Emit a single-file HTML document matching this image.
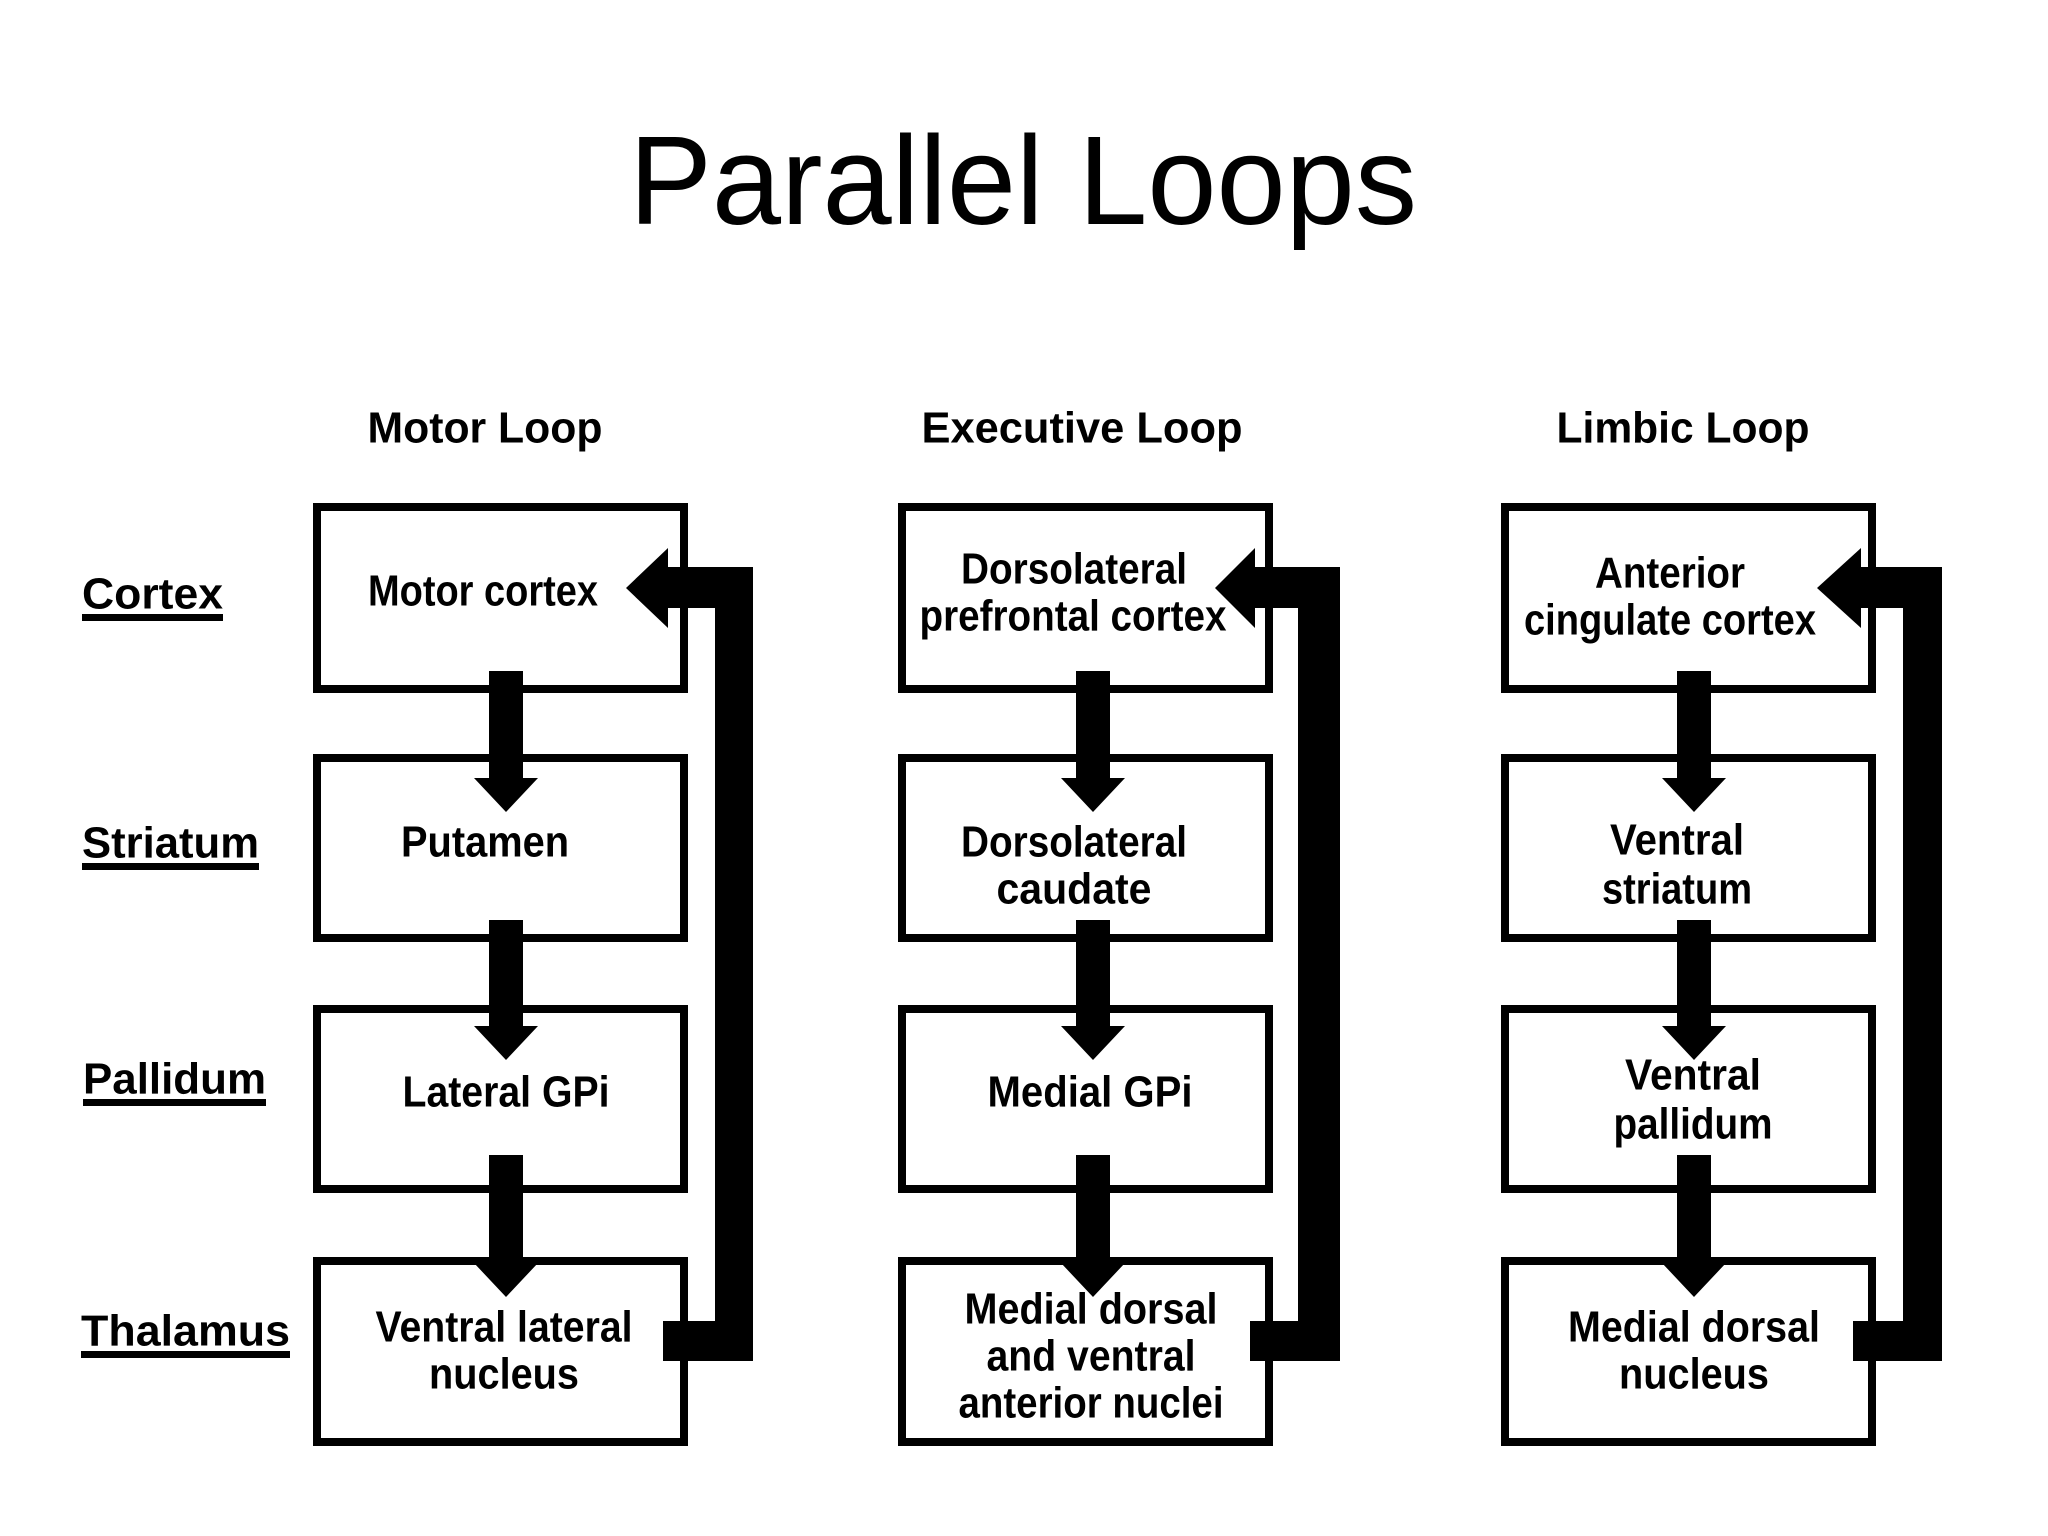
<!DOCTYPE html>
<html><head><meta charset="utf-8"><style>
html,body{margin:0;padding:0;background:#fff}
svg{display:block}
text{font-family:"Liberation Sans",sans-serif;fill:#000}
.b{font-weight:bold;font-size:44px}
</style></head><body>
<svg width="2048" height="1536" viewBox="0 0 2048 1536" xmlns="http://www.w3.org/2000/svg">
<text x="1023" y="224" font-size="126" text-anchor="middle" textLength="788" lengthAdjust="spacingAndGlyphs">Parallel Loops</text>

<g class="b" text-anchor="middle" dominant-baseline="central">
<text x="485" y="428" textLength="235" lengthAdjust="spacingAndGlyphs">Motor Loop</text>
<text x="1082" y="428" textLength="321" lengthAdjust="spacingAndGlyphs">Executive Loop</text>
<text x="1683" y="428" textLength="253" lengthAdjust="spacingAndGlyphs">Limbic Loop</text>
</g>

<g class="b" dominant-baseline="central" text-decoration="underline">
<text x="82" y="594" textLength="141" lengthAdjust="spacingAndGlyphs">Cortex</text>
<text x="82" y="843" textLength="177" lengthAdjust="spacingAndGlyphs">Striatum</text>
<text x="83" y="1079" textLength="183" lengthAdjust="spacingAndGlyphs">Pallidum</text>
<text x="81" y="1331" textLength="209" lengthAdjust="spacingAndGlyphs">Thalamus</text>
</g>
<g fill="#000">
<rect x="82" y="614" width="141" height="7"/>
<rect x="82" y="863" width="177" height="7"/>
<rect x="83" y="1099" width="183" height="7"/>
<rect x="81" y="1351" width="209" height="7"/>
</g>

<g fill="none" stroke="#000" stroke-width="8">
<rect x="317" y="507" width="367" height="182"/>
<rect x="317" y="758" width="367" height="180"/>
<rect x="317" y="1009" width="367" height="180"/>
<rect x="317" y="1261" width="367" height="181"/>
<rect x="902" y="507" width="367" height="182"/>
<rect x="902" y="758" width="367" height="180"/>
<rect x="902" y="1009" width="367" height="180"/>
<rect x="902" y="1261" width="367" height="181"/>
<rect x="1505" y="507" width="367" height="182"/>
<rect x="1505" y="758" width="367" height="180"/>
<rect x="1505" y="1009" width="367" height="180"/>
<rect x="1505" y="1261" width="367" height="181"/>
</g>

<defs>
<path id="d1" d="M-17,671 H17 V778 H32 L0,812 L-32,778 H-17 Z"/>
<path id="d2" d="M-17,920 H17 V1026 H32 L0,1060 L-32,1026 H-17 Z"/>
<path id="d3" d="M-17,1155 H17 V1263 H32 L0,1297 L-32,1263 H-17 Z"/>
</defs>
<g fill="#000">
<g transform="translate(506,0)"><use href="#d1"/><use href="#d2"/><use href="#d3"/></g>
<g transform="translate(1093,0)"><use href="#d1"/><use href="#d2"/><use href="#d3"/></g>
<g transform="translate(1694,0)"><use href="#d1"/><use href="#d2"/><use href="#d3"/></g>
<path d="M663,1321 H753 V567 H668 V548 L626,588 L668,628 V608 H715 V1321 Z M663,1321 V1361 H753 V1321"/>
<rect x="663" y="1321" width="90" height="40"/>
<rect x="715" y="567" width="38" height="794"/>
<path d="M1250,1321 H1340 V567 H1255 V548 L1215,588 L1255,628 V608 H1298 V1321 Z"/>
<rect x="1250" y="1321" width="90" height="40"/>
<rect x="1298" y="567" width="42" height="794"/>
<path d="M1853,1321 H1942 V567 H1861 V548 L1817,588 L1861,628 V608 H1903 V1321 Z"/>
<rect x="1853" y="1321" width="89" height="40"/>
<rect x="1903" y="567" width="39" height="794"/>
</g>

<g class="b" text-anchor="middle" dominant-baseline="central">
<text x="483" y="591" textLength="230" lengthAdjust="spacingAndGlyphs">Motor cortex</text>
<text x="485" y="842" textLength="168" lengthAdjust="spacingAndGlyphs">Putamen</text>
<text x="506" y="1092" textLength="207" lengthAdjust="spacingAndGlyphs">Lateral GPi</text>
<text x="504" y="1327" textLength="257" lengthAdjust="spacingAndGlyphs">Ventral lateral</text>
<text x="504" y="1374" textLength="150" lengthAdjust="spacingAndGlyphs">nucleus</text>

<text x="1074" y="569" textLength="226" lengthAdjust="spacingAndGlyphs">Dorsolateral</text>
<text x="1073" y="616" textLength="307" lengthAdjust="spacingAndGlyphs">prefrontal cortex</text>
<text x="1074" y="842" textLength="226" lengthAdjust="spacingAndGlyphs">Dorsolateral</text>
<text x="1074" y="889" textLength="155" lengthAdjust="spacingAndGlyphs">caudate</text>
<text x="1090" y="1092" textLength="205" lengthAdjust="spacingAndGlyphs">Medial GPi</text>
<text x="1091" y="1309" textLength="253" lengthAdjust="spacingAndGlyphs">Medial dorsal</text>
<text x="1091" y="1356" textLength="209" lengthAdjust="spacingAndGlyphs">and ventral</text>
<text x="1091" y="1403" textLength="265" lengthAdjust="spacingAndGlyphs">anterior nuclei</text>

<text x="1670" y="573" textLength="150" lengthAdjust="spacingAndGlyphs">Anterior</text>
<text x="1670" y="620" textLength="292" lengthAdjust="spacingAndGlyphs">cingulate cortex</text>
<text x="1677" y="840" textLength="134" lengthAdjust="spacingAndGlyphs">Ventral</text>
<text x="1677" y="889" textLength="150" lengthAdjust="spacingAndGlyphs">striatum</text>
<text x="1693" y="1075" textLength="136" lengthAdjust="spacingAndGlyphs">Ventral</text>
<text x="1693" y="1124" textLength="159" lengthAdjust="spacingAndGlyphs">pallidum</text>
<text x="1694" y="1327" textLength="252" lengthAdjust="spacingAndGlyphs">Medial dorsal</text>
<text x="1694" y="1374" textLength="150" lengthAdjust="spacingAndGlyphs">nucleus</text>
</g>
</svg>
</body></html>
